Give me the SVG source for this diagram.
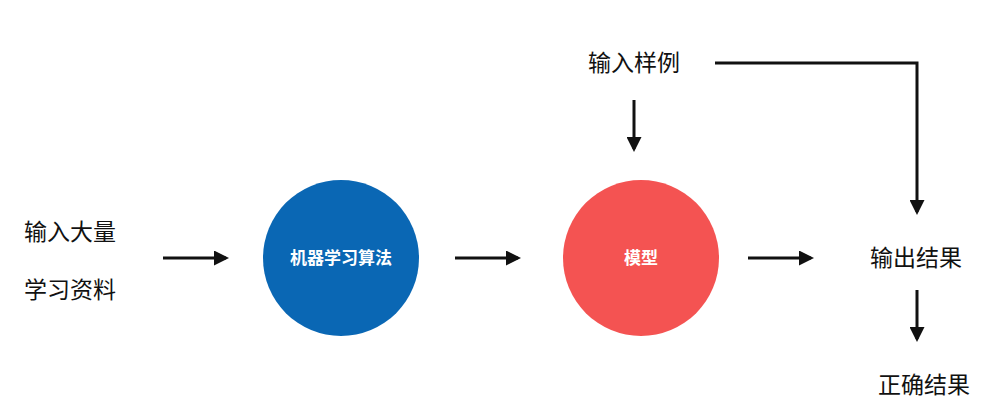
<svg xmlns="http://www.w3.org/2000/svg" width="993" height="403" viewBox="0 0 993 403">
<style>
.t{font-family:"Liberation Sans","Noto Sans CJK SC",sans-serif;font-size:23px;fill:#111}
.w{font-family:"Liberation Sans","Noto Sans CJK SC",sans-serif;font-size:17px;font-weight:bold;fill:#fff}
.c{stroke:#111;stroke-width:3;fill:none;marker-end:url(#a)}
</style>
<defs><marker id="a" markerWidth="5" markerHeight="5" refX="4" refY="2.5" orient="auto" markerUnits="strokeWidth"><path d="M0,0L5,2.5L0,5z" fill="#111"/></marker></defs>
<rect width="993" height="403" fill="#fff"/>
<g id="input"><text class="t" x="24" y="240">输入大量</text><text class="t" x="24" y="298">学习资料</text></g>
<g id="algo"><circle cx="341" cy="258" r="78" fill="#0a67b4"/><text class="w" x="341" y="264" text-anchor="middle">机器学习算法</text></g>
<g id="model"><circle cx="641" cy="258" r="78" fill="#f45352"/><text class="w" x="641" y="264" text-anchor="middle">模型</text></g>
<g id="sample"><text class="t" x="588" y="71">输入样例</text></g>
<g id="output"><text class="t" x="870" y="266">输出结果</text></g>
<g id="correct"><text class="t" x="878" y="393">正确结果</text></g>
<g id="connectors">
<path class="c" d="M163,258H226"/>
<path class="c" d="M455,258H518"/>
<path class="c" d="M748,258H811"/>
<path class="c" d="M634,100V149"/>
<path class="c" d="M715,63H917V212"/>
<path class="c" d="M917,290V339"/>
</g>
</svg>
